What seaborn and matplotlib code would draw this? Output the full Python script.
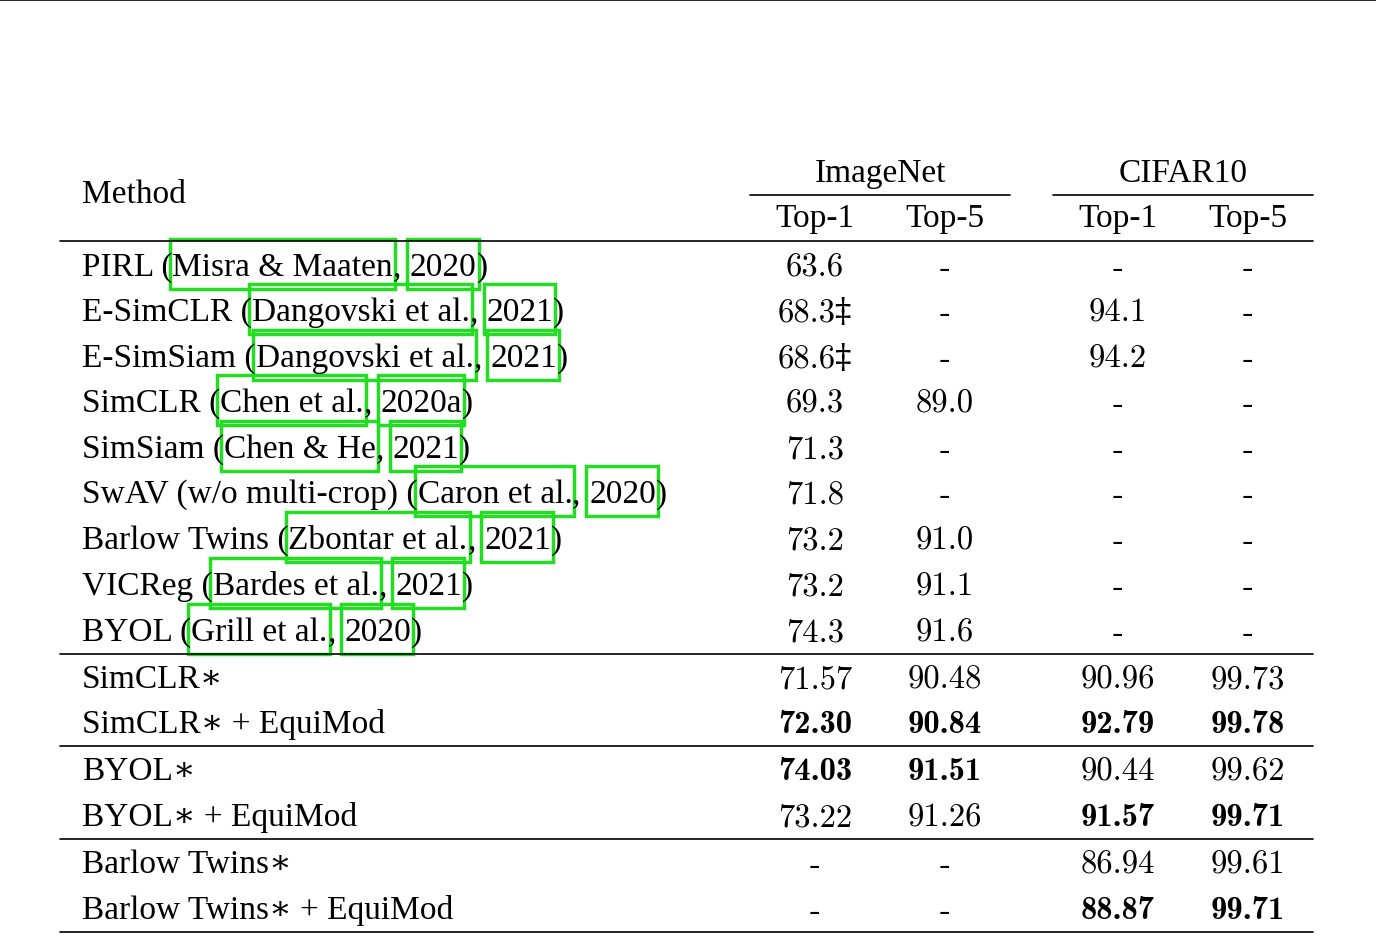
import matplotlib
matplotlib.use("Agg")
import matplotlib.pyplot as plt
import seaborn as sns
from matplotlib.patches import Rectangle

sns.set_theme(style="white")
plt.rcParams['font.family'] = ['Liberation Serif', 'DejaVu Serif']
plt.rcParams['text.color'] = 'black'

# --- table data ---
method_parts = [
    ["PIRL (", ("Misra & Maaten",), ", ", ("2020",), ")"],
    ["E-SimCLR (", ("Dangovski et al.",), ", ", ("2021",), ")"],
    ["E-SimSiam (", ("Dangovski et al.",), ", ", ("2021",), ")"],
    ["SimCLR (", ("Chen et al.",), ", ", ("2020a",), ")"],
    ["SimSiam (", ("Chen & He",), ", ", ("2021",), ")"],
    ["SwAV (w/o multi-crop) (", ("Caron et al.",), ", ", ("2020",), ")"],
    ["Barlow Twins (", ("Zbontar et al.",), ", ", ("2021",), ")"],
    ["VICReg (", ("Bardes et al.",), ", ", ("2021",), ")"],
    ["BYOL (", ("Grill et al.",), ", ", ("2020",), ")"],
    ["SimCLR∗"],
    ["SimCLR∗ + EquiMod"],
    ["BYOL∗"],
    ["BYOL∗ + EquiMod"],
    ["Barlow Twins∗"],
    ["Barlow Twins∗ + EquiMod"],
]
imagenet_top1 = ["63.6", "68.3‡", "68.6‡", "69.3", "71.3", "71.8", "73.2", "73.2", "74.3",
                 "71.57", "72.30", "74.03", "73.22", "-", "-"]
imagenet_top5 = ["-", "-", "-", "89.0", "-", "-", "91.0", "91.1", "91.6",
                 "90.48", "90.84", "91.51", "91.26", "-", "-"]
cifar_top1 = ["-", "94.1", "94.2", "-", "-", "-", "-", "-", "-",
              "90.96", "92.79", "90.44", "91.57", "86.94", "88.87"]
cifar_top5 = ["-", "-", "-", "-", "-", "-", "-", "-", "-",
              "99.73", "99.78", "99.62", "99.71", "99.61", "99.71"]
bold = [
    [], [], [], [], [], [], [], [], [],
    [], [0, 1, 2, 3], [0, 1], [2, 3], [], [2, 3],
]

W, H = 1376, 937
fig = plt.figure(figsize=(W / 100, H / 100), dpi=100)
ax = fig.add_axes([0, 0, 1, 1])
ax.set_xlim(0, W)
ax.set_ylim(H, 0)
ax.axis("off")

fs = 24
nfs = 23.5
col_x = [815, 945, 1118, 1248]
row_y = [268, 313, 359, 404, 450, 495, 541, 587, 633, 680, 725, 772, 818, 865, 911]

lk = dict(color="black", lw=1.2)
ax.plot([0, W], [1, 1], **lk)
ax.plot([750, 1010], [196, 196], **lk)
ax.plot([1053, 1313], [196, 196], **lk)
for y in [242, 655, 747, 840, 933]:
    ax.plot([60, 1313], [y, y], **lk)

ax.text(82, 195, "Method", fontsize=fs, va="center")
ax.text(880, 174, "ImageNet", fontsize=fs, va="center", ha="center")
ax.text(1183, 174, "CIFAR10", fontsize=fs, va="center", ha="center")
for x, lab in zip(col_x, ["Top-1", "Top-5", "Top-1", "Top-5"]):
    ax.text(x, 219, lab, fontsize=fs, va="center", ha="center")

fig.canvas.draw()
renderer = fig.canvas.get_renderer()
inv = ax.transData.inverted()

for parts, y in zip(method_parts, row_y):
    x = 82
    for p in parts:
        is_cite = isinstance(p, tuple)
        s = p[0] if is_cite else p
        t = ax.text(x, y, s, fontsize=fs, va="center")
        bb = t.get_window_extent(renderer)
        (x0, _), (x1, _) = inv.transform([[bb.x0, bb.y0], [bb.x1, bb.y1]])
        if is_cite:
            ax.add_patch(Rectangle((x0 - 3, y - 28), x1 - x0 + 5, 50,
                                   fill=False, edgecolor="#22dd22", lw=2.5))
        x = x1

cols = [imagenet_top1, imagenet_top5, cifar_top1, cifar_top5]
for i, y in enumerate(row_y):
    for j, (cx, col) in enumerate(zip(col_x, cols)):
        b = j in bold[i]
        ax.text(cx, y, col[i], fontsize=nfs, va="center", ha="center",
                family=["cmb10" if b else "cmr10", "DejaVu Serif"])

fig.savefig("out.png", dpi=100)
